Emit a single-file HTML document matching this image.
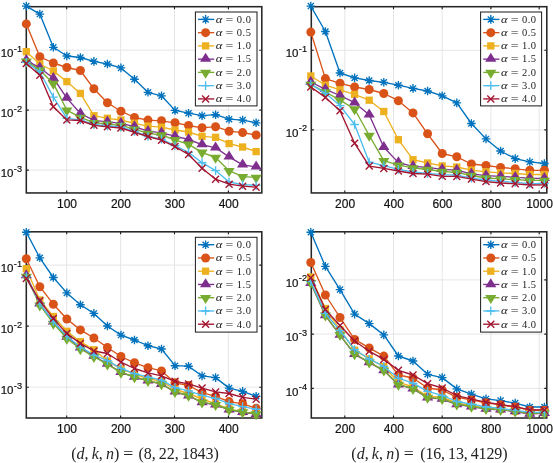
<!DOCTYPE html>
<html><head><meta charset="utf-8"><title>plots</title>
<style>
html,body{margin:0;padding:0;background:#fff}
svg{display:block}
.tk{font-family:"Liberation Sans",sans-serif;font-size:12px;fill:#111;stroke:#111;stroke-width:0.2px}
.ty{font-size:11.5px}
.sup{font-size:9.2px}
.lg{font-family:"Liberation Serif",serif;font-size:10.5px;fill:#1a1a1a}
.cap{font-family:"Liberation Serif",serif;font-size:16px;fill:#222}
.it{font-style:italic}
</style></head><body>
<svg width="553" height="463" viewBox="0 0 553 463">
<rect width="553" height="463" fill="#fff"/>
<rect x="26.3" y="6.7" width="235.5" height="186.25" fill="#fff"/>
<path d="M66.7 6.7V192.95M120.6 6.7V192.95M174.5 6.7V192.95M228.4 6.7V192.95M26.3 50.2H261.8M26.3 110.1H261.8M26.3 170.1H261.8" stroke="#e3e3e7" stroke-width="0.9" fill="none"/>
<path d="M66.7 192.95v-2.5M66.7 6.7v2.5M120.6 192.95v-2.5M120.6 6.7v2.5M174.5 192.95v-2.5M174.5 6.7v2.5M228.4 192.95v-2.5M228.4 6.7v2.5M26.3 50.2h2.5M261.8 50.2h-2.5M26.3 110.1h2.5M261.8 110.1h-2.5M26.3 170.1h2.5M261.8 170.1h-2.5" stroke="#1a1a1a" stroke-width="1.1" fill="none"/>
<rect x="26.3" y="6.7" width="235.5" height="186.25" fill="none" stroke="#262626" stroke-width="1.55"/>
<text x="67" y="207.85" text-anchor="middle" class="tk">100</text>
<text x="120.9" y="207.85" text-anchor="middle" class="tk">200</text>
<text x="174.8" y="207.85" text-anchor="middle" class="tk">300</text>
<text x="228.7" y="207.85" text-anchor="middle" class="tk">400</text>
<text x="22" y="57.3" text-anchor="end" class="tk ty">10<tspan dx="0.3" dy="-5.6" class="sup">-1</tspan></text>
<text x="22" y="117.2" text-anchor="end" class="tk ty">10<tspan dx="0.3" dy="-5.6" class="sup">-2</tspan></text>
<text x="22" y="177.2" text-anchor="end" class="tk ty">10<tspan dx="0.3" dy="-5.6" class="sup">-3</tspan></text>
<polyline points="26.3,6.1 39.82,14.1 53.34,47.3 66.86,56 80.38,57.5 93.9,61.4 107.42,64 120.94,67.9 134.46,79.2 147.98,92.3 161.5,95.8 175.02,110.4 188.54,113.2 202.06,115.7 215.58,114.7 229.1,119.2 242.62,120.1 256.14,122.8" fill="none" stroke="#0072BD" stroke-width="1.35" stroke-linejoin="round"/>
<path d="M22 6.1H30.6M26.3 1.8V10.4M23.26 3.06L29.34 9.14M23.26 9.14L29.34 3.06" stroke="#0072BD" stroke-width="1.35" fill="none"/>
<path d="M35.52 14.1H44.12M39.82 9.8V18.4M36.78 11.06L42.86 17.14M36.78 17.14L42.86 11.06" stroke="#0072BD" stroke-width="1.35" fill="none"/>
<path d="M49.04 47.3H57.64M53.34 43V51.6M50.3 44.26L56.38 50.34M50.3 50.34L56.38 44.26" stroke="#0072BD" stroke-width="1.35" fill="none"/>
<path d="M62.56 56H71.16M66.86 51.7V60.3M63.82 52.96L69.9 59.04M63.82 59.04L69.9 52.96" stroke="#0072BD" stroke-width="1.35" fill="none"/>
<path d="M76.08 57.5H84.68M80.38 53.2V61.8M77.34 54.46L83.42 60.54M77.34 60.54L83.42 54.46" stroke="#0072BD" stroke-width="1.35" fill="none"/>
<path d="M89.6 61.4H98.2M93.9 57.1V65.7M90.86 58.36L96.94 64.44M90.86 64.44L96.94 58.36" stroke="#0072BD" stroke-width="1.35" fill="none"/>
<path d="M103.12 64H111.72M107.42 59.7V68.3M104.38 60.96L110.46 67.04M104.38 67.04L110.46 60.96" stroke="#0072BD" stroke-width="1.35" fill="none"/>
<path d="M116.64 67.9H125.24M120.94 63.6V72.2M117.9 64.86L123.98 70.94M117.9 70.94L123.98 64.86" stroke="#0072BD" stroke-width="1.35" fill="none"/>
<path d="M130.16 79.2H138.76M134.46 74.9V83.5M131.42 76.16L137.5 82.24M131.42 82.24L137.5 76.16" stroke="#0072BD" stroke-width="1.35" fill="none"/>
<path d="M143.68 92.3H152.28M147.98 88V96.6M144.94 89.26L151.02 95.34M144.94 95.34L151.02 89.26" stroke="#0072BD" stroke-width="1.35" fill="none"/>
<path d="M157.2 95.8H165.8M161.5 91.5V100.1M158.46 92.76L164.54 98.84M158.46 98.84L164.54 92.76" stroke="#0072BD" stroke-width="1.35" fill="none"/>
<path d="M170.72 110.4H179.32M175.02 106.1V114.7M171.98 107.36L178.06 113.44M171.98 113.44L178.06 107.36" stroke="#0072BD" stroke-width="1.35" fill="none"/>
<path d="M184.24 113.2H192.84M188.54 108.9V117.5M185.5 110.16L191.58 116.24M185.5 116.24L191.58 110.16" stroke="#0072BD" stroke-width="1.35" fill="none"/>
<path d="M197.76 115.7H206.36M202.06 111.4V120M199.02 112.66L205.1 118.74M199.02 118.74L205.1 112.66" stroke="#0072BD" stroke-width="1.35" fill="none"/>
<path d="M211.28 114.7H219.88M215.58 110.4V119M212.54 111.66L218.62 117.74M212.54 117.74L218.62 111.66" stroke="#0072BD" stroke-width="1.35" fill="none"/>
<path d="M224.8 119.2H233.4M229.1 114.9V123.5M226.06 116.16L232.14 122.24M226.06 122.24L232.14 116.16" stroke="#0072BD" stroke-width="1.35" fill="none"/>
<path d="M238.32 120.1H246.92M242.62 115.8V124.4M239.58 117.06L245.66 123.14M239.58 123.14L245.66 117.06" stroke="#0072BD" stroke-width="1.35" fill="none"/>
<path d="M251.84 122.8H260.44M256.14 118.5V127.1M253.1 119.76L259.18 125.84M253.1 125.84L259.18 119.76" stroke="#0072BD" stroke-width="1.35" fill="none"/>
<polyline points="26.3,23.9 39.82,56.8 53.34,63 66.86,67.5 80.38,70.5 93.9,88.8 107.42,102.7 120.94,111.2 134.46,117.5 147.98,120.1 161.5,120.8 175.02,122.8 188.54,125.5 202.06,127.8 215.58,126.7 229.1,131.2 242.62,132.6 256.14,135" fill="none" stroke="#D95319" stroke-width="1.35" stroke-linejoin="round"/>
<circle cx="26.3" cy="23.9" r="4.5" fill="#D95319"/>
<circle cx="39.82" cy="56.8" r="4.5" fill="#D95319"/>
<circle cx="53.34" cy="63" r="4.5" fill="#D95319"/>
<circle cx="66.86" cy="67.5" r="4.5" fill="#D95319"/>
<circle cx="80.38" cy="70.5" r="4.5" fill="#D95319"/>
<circle cx="93.9" cy="88.8" r="4.5" fill="#D95319"/>
<circle cx="107.42" cy="102.7" r="4.5" fill="#D95319"/>
<circle cx="120.94" cy="111.2" r="4.5" fill="#D95319"/>
<circle cx="134.46" cy="117.5" r="4.5" fill="#D95319"/>
<circle cx="147.98" cy="120.1" r="4.5" fill="#D95319"/>
<circle cx="161.5" cy="120.8" r="4.5" fill="#D95319"/>
<circle cx="175.02" cy="122.8" r="4.5" fill="#D95319"/>
<circle cx="188.54" cy="125.5" r="4.5" fill="#D95319"/>
<circle cx="202.06" cy="127.8" r="4.5" fill="#D95319"/>
<circle cx="215.58" cy="126.7" r="4.5" fill="#D95319"/>
<circle cx="229.1" cy="131.2" r="4.5" fill="#D95319"/>
<circle cx="242.62" cy="132.6" r="4.5" fill="#D95319"/>
<circle cx="256.14" cy="135" r="4.5" fill="#D95319"/>
<polyline points="26.3,51.7 39.82,64 53.34,71 66.86,81.6 80.38,93.4 93.9,115.7 107.42,118.3 120.94,120 134.46,123.3 147.98,126.1 161.5,127.2 175.02,130 188.54,132 202.06,136.3 215.58,137.3 229.1,143.6 242.62,147 256.14,151.6" fill="none" stroke="#EDB120" stroke-width="1.35" stroke-linejoin="round"/>
<rect x="22.65" y="48.05" width="7.3" height="7.3" fill="#EDB120"/>
<rect x="36.17" y="60.35" width="7.3" height="7.3" fill="#EDB120"/>
<rect x="49.69" y="67.35" width="7.3" height="7.3" fill="#EDB120"/>
<rect x="63.21" y="77.95" width="7.3" height="7.3" fill="#EDB120"/>
<rect x="76.73" y="89.75" width="7.3" height="7.3" fill="#EDB120"/>
<rect x="90.25" y="112.05" width="7.3" height="7.3" fill="#EDB120"/>
<rect x="103.77" y="114.65" width="7.3" height="7.3" fill="#EDB120"/>
<rect x="117.29" y="116.35" width="7.3" height="7.3" fill="#EDB120"/>
<rect x="130.81" y="119.65" width="7.3" height="7.3" fill="#EDB120"/>
<rect x="144.33" y="122.45" width="7.3" height="7.3" fill="#EDB120"/>
<rect x="157.85" y="123.55" width="7.3" height="7.3" fill="#EDB120"/>
<rect x="171.37" y="126.35" width="7.3" height="7.3" fill="#EDB120"/>
<rect x="184.89" y="128.35" width="7.3" height="7.3" fill="#EDB120"/>
<rect x="198.41" y="132.65" width="7.3" height="7.3" fill="#EDB120"/>
<rect x="211.93" y="133.65" width="7.3" height="7.3" fill="#EDB120"/>
<rect x="225.45" y="139.95" width="7.3" height="7.3" fill="#EDB120"/>
<rect x="238.97" y="143.35" width="7.3" height="7.3" fill="#EDB120"/>
<rect x="252.49" y="147.95" width="7.3" height="7.3" fill="#EDB120"/>
<polyline points="26.3,60.3 39.82,67.8 53.34,78.2 66.86,98.1 80.38,113.5 93.9,120.4 107.42,121.8 120.94,123.4 134.46,126.6 147.98,131.2 161.5,132.9 175.02,136.2 188.54,139.5 202.06,144.6 215.58,147.8 229.1,156.9 242.62,164.8 256.14,166.9" fill="none" stroke="#7E2F8E" stroke-width="1.35" stroke-linejoin="round"/>
<path d="M26.3 54L31.9 63H20.7Z" fill="#7E2F8E"/>
<path d="M39.82 61.5L45.42 70.5H34.22Z" fill="#7E2F8E"/>
<path d="M53.34 71.9L58.94 80.9H47.74Z" fill="#7E2F8E"/>
<path d="M66.86 91.8L72.46 100.8H61.26Z" fill="#7E2F8E"/>
<path d="M80.38 107.2L85.98 116.2H74.78Z" fill="#7E2F8E"/>
<path d="M93.9 114.1L99.5 123.1H88.3Z" fill="#7E2F8E"/>
<path d="M107.42 115.5L113.02 124.5H101.82Z" fill="#7E2F8E"/>
<path d="M120.94 117.1L126.54 126.1H115.34Z" fill="#7E2F8E"/>
<path d="M134.46 120.3L140.06 129.3H128.86Z" fill="#7E2F8E"/>
<path d="M147.98 124.9L153.58 133.9H142.38Z" fill="#7E2F8E"/>
<path d="M161.5 126.6L167.1 135.6H155.9Z" fill="#7E2F8E"/>
<path d="M175.02 129.9L180.62 138.9H169.42Z" fill="#7E2F8E"/>
<path d="M188.54 133.2L194.14 142.2H182.94Z" fill="#7E2F8E"/>
<path d="M202.06 138.3L207.66 147.3H196.46Z" fill="#7E2F8E"/>
<path d="M215.58 141.5L221.18 150.5H209.98Z" fill="#7E2F8E"/>
<path d="M229.1 150.6L234.7 159.6H223.5Z" fill="#7E2F8E"/>
<path d="M242.62 158.5L248.22 167.5H237.02Z" fill="#7E2F8E"/>
<path d="M256.14 160.6L261.74 169.6H250.54Z" fill="#7E2F8E"/>
<polyline points="26.3,61.1 39.82,70 53.34,83.4 66.86,110.2 80.38,117.4 93.9,122.6 107.42,124.2 120.94,125.4 134.46,129.1 147.98,133.4 161.5,135 175.02,139.8 188.54,144.3 202.06,152.3 215.58,157.5 229.1,170.7 242.62,176.6 256.14,177.4" fill="none" stroke="#77AC30" stroke-width="1.35" stroke-linejoin="round"/>
<path d="M26.3 67.4L31.9 58.4H20.7Z" fill="#77AC30"/>
<path d="M39.82 76.3L45.42 67.3H34.22Z" fill="#77AC30"/>
<path d="M53.34 89.7L58.94 80.7H47.74Z" fill="#77AC30"/>
<path d="M66.86 116.5L72.46 107.5H61.26Z" fill="#77AC30"/>
<path d="M80.38 123.7L85.98 114.7H74.78Z" fill="#77AC30"/>
<path d="M93.9 128.9L99.5 119.9H88.3Z" fill="#77AC30"/>
<path d="M107.42 130.5L113.02 121.5H101.82Z" fill="#77AC30"/>
<path d="M120.94 131.7L126.54 122.7H115.34Z" fill="#77AC30"/>
<path d="M134.46 135.4L140.06 126.4H128.86Z" fill="#77AC30"/>
<path d="M147.98 139.7L153.58 130.7H142.38Z" fill="#77AC30"/>
<path d="M161.5 141.3L167.1 132.3H155.9Z" fill="#77AC30"/>
<path d="M175.02 146.1L180.62 137.1H169.42Z" fill="#77AC30"/>
<path d="M188.54 150.6L194.14 141.6H182.94Z" fill="#77AC30"/>
<path d="M202.06 158.6L207.66 149.6H196.46Z" fill="#77AC30"/>
<path d="M215.58 163.8L221.18 154.8H209.98Z" fill="#77AC30"/>
<path d="M229.1 177L234.7 168H223.5Z" fill="#77AC30"/>
<path d="M242.62 182.9L248.22 173.9H237.02Z" fill="#77AC30"/>
<path d="M256.14 183.7L261.74 174.7H250.54Z" fill="#77AC30"/>
<polyline points="26.3,62.4 39.82,71.7 53.34,97.1 66.86,118.4 80.38,119.9 93.9,124.4 107.42,126 120.94,127 134.46,131.4 147.98,136.5 161.5,139.2 175.02,145.5 188.54,152.4 202.06,162.7 215.58,170.6 229.1,182 242.62,184.6 256.14,185.3" fill="none" stroke="#4DBEEE" stroke-width="1.35" stroke-linejoin="round"/>
<path d="M21.95 62.4H30.65M26.3 58.05V66.75" stroke="#4DBEEE" stroke-width="1.35" fill="none"/>
<path d="M35.47 71.7H44.17M39.82 67.35V76.05" stroke="#4DBEEE" stroke-width="1.35" fill="none"/>
<path d="M48.99 97.1H57.69M53.34 92.75V101.45" stroke="#4DBEEE" stroke-width="1.35" fill="none"/>
<path d="M62.51 118.4H71.21M66.86 114.05V122.75" stroke="#4DBEEE" stroke-width="1.35" fill="none"/>
<path d="M76.03 119.9H84.73M80.38 115.55V124.25" stroke="#4DBEEE" stroke-width="1.35" fill="none"/>
<path d="M89.55 124.4H98.25M93.9 120.05V128.75" stroke="#4DBEEE" stroke-width="1.35" fill="none"/>
<path d="M103.07 126H111.77M107.42 121.65V130.35" stroke="#4DBEEE" stroke-width="1.35" fill="none"/>
<path d="M116.59 127H125.29M120.94 122.65V131.35" stroke="#4DBEEE" stroke-width="1.35" fill="none"/>
<path d="M130.11 131.4H138.81M134.46 127.05V135.75" stroke="#4DBEEE" stroke-width="1.35" fill="none"/>
<path d="M143.63 136.5H152.33M147.98 132.15V140.85" stroke="#4DBEEE" stroke-width="1.35" fill="none"/>
<path d="M157.15 139.2H165.85M161.5 134.85V143.55" stroke="#4DBEEE" stroke-width="1.35" fill="none"/>
<path d="M170.67 145.5H179.37M175.02 141.15V149.85" stroke="#4DBEEE" stroke-width="1.35" fill="none"/>
<path d="M184.19 152.4H192.89M188.54 148.05V156.75" stroke="#4DBEEE" stroke-width="1.35" fill="none"/>
<path d="M197.71 162.7H206.41M202.06 158.35V167.05" stroke="#4DBEEE" stroke-width="1.35" fill="none"/>
<path d="M211.23 170.6H219.93M215.58 166.25V174.95" stroke="#4DBEEE" stroke-width="1.35" fill="none"/>
<path d="M224.75 182H233.45M229.1 177.65V186.35" stroke="#4DBEEE" stroke-width="1.35" fill="none"/>
<path d="M238.27 184.6H246.97M242.62 180.25V188.95" stroke="#4DBEEE" stroke-width="1.35" fill="none"/>
<path d="M251.79 185.3H260.49M256.14 180.95V189.65" stroke="#4DBEEE" stroke-width="1.35" fill="none"/>
<polyline points="26.3,63.4 39.82,75.2 53.34,106.8 66.86,119.9 80.38,120.5 93.9,125.3 107.42,126.8 120.94,128 134.46,132.3 147.98,136.5 161.5,140.2 175.02,146.6 188.54,154.5 202.06,168.2 215.58,179.2 229.1,184.2 242.62,186.2 256.14,187.2" fill="none" stroke="#A2142F" stroke-width="1.35" stroke-linejoin="round"/>
<path d="M22.8 59.9L29.8 66.9M22.8 66.9L29.8 59.9" stroke="#A2142F" stroke-width="1.35" fill="none"/>
<path d="M36.32 71.7L43.32 78.7M36.32 78.7L43.32 71.7" stroke="#A2142F" stroke-width="1.35" fill="none"/>
<path d="M49.84 103.3L56.84 110.3M49.84 110.3L56.84 103.3" stroke="#A2142F" stroke-width="1.35" fill="none"/>
<path d="M63.36 116.4L70.36 123.4M63.36 123.4L70.36 116.4" stroke="#A2142F" stroke-width="1.35" fill="none"/>
<path d="M76.88 117L83.88 124M76.88 124L83.88 117" stroke="#A2142F" stroke-width="1.35" fill="none"/>
<path d="M90.4 121.8L97.4 128.8M90.4 128.8L97.4 121.8" stroke="#A2142F" stroke-width="1.35" fill="none"/>
<path d="M103.92 123.3L110.92 130.3M103.92 130.3L110.92 123.3" stroke="#A2142F" stroke-width="1.35" fill="none"/>
<path d="M117.44 124.5L124.44 131.5M117.44 131.5L124.44 124.5" stroke="#A2142F" stroke-width="1.35" fill="none"/>
<path d="M130.96 128.8L137.96 135.8M130.96 135.8L137.96 128.8" stroke="#A2142F" stroke-width="1.35" fill="none"/>
<path d="M144.48 133L151.48 140M144.48 140L151.48 133" stroke="#A2142F" stroke-width="1.35" fill="none"/>
<path d="M158 136.7L165 143.7M158 143.7L165 136.7" stroke="#A2142F" stroke-width="1.35" fill="none"/>
<path d="M171.52 143.1L178.52 150.1M171.52 150.1L178.52 143.1" stroke="#A2142F" stroke-width="1.35" fill="none"/>
<path d="M185.04 151L192.04 158M185.04 158L192.04 151" stroke="#A2142F" stroke-width="1.35" fill="none"/>
<path d="M198.56 164.7L205.56 171.7M198.56 171.7L205.56 164.7" stroke="#A2142F" stroke-width="1.35" fill="none"/>
<path d="M212.08 175.7L219.08 182.7M212.08 182.7L219.08 175.7" stroke="#A2142F" stroke-width="1.35" fill="none"/>
<path d="M225.6 180.7L232.6 187.7M225.6 187.7L232.6 180.7" stroke="#A2142F" stroke-width="1.35" fill="none"/>
<path d="M239.12 182.7L246.12 189.7M239.12 189.7L246.12 182.7" stroke="#A2142F" stroke-width="1.35" fill="none"/>
<path d="M252.64 183.7L259.64 190.7M252.64 190.7L259.64 183.7" stroke="#A2142F" stroke-width="1.35" fill="none"/>
<rect x="195.4" y="12" width="61.6" height="93.9" fill="#fff" stroke="#1a1a1a" stroke-width="1"/>
<path d="M198 19.4H214.2" stroke="#0072BD" stroke-width="1.35"/>
<path d="M201.3 19.4H209.9M205.6 15.1V23.7M202.56 16.36L208.64 22.44M202.56 22.44L208.64 16.36" stroke="#0072BD" stroke-width="1.35" fill="none"/>
<text y="22.7" class="lg"><tspan x="215.7" class="it" textLength="6.6" lengthAdjust="spacingAndGlyphs">α</tspan><tspan x="225.6" textLength="7.8" lengthAdjust="spacingAndGlyphs">=</tspan><tspan x="236.7" textLength="14.2">0.0</tspan></text>
<path d="M198 32.65H214.2" stroke="#D95319" stroke-width="1.35"/>
<circle cx="205.6" cy="32.65" r="4.5" fill="#D95319"/>
<text y="35.95" class="lg"><tspan x="215.7" class="it" textLength="6.6" lengthAdjust="spacingAndGlyphs">α</tspan><tspan x="225.6" textLength="7.8" lengthAdjust="spacingAndGlyphs">=</tspan><tspan x="236.7" textLength="14.2">0.5</tspan></text>
<path d="M198 45.9H214.2" stroke="#EDB120" stroke-width="1.35"/>
<rect x="201.95" y="42.25" width="7.3" height="7.3" fill="#EDB120"/>
<text y="49.2" class="lg"><tspan x="215.7" class="it" textLength="6.6" lengthAdjust="spacingAndGlyphs">α</tspan><tspan x="225.6" textLength="7.8" lengthAdjust="spacingAndGlyphs">=</tspan><tspan x="236.7" textLength="14.2">1.0</tspan></text>
<path d="M198 59.15H214.2" stroke="#7E2F8E" stroke-width="1.35"/>
<path d="M205.6 52.85L211.2 61.85H200Z" fill="#7E2F8E"/>
<text y="62.45" class="lg"><tspan x="215.7" class="it" textLength="6.6" lengthAdjust="spacingAndGlyphs">α</tspan><tspan x="225.6" textLength="7.8" lengthAdjust="spacingAndGlyphs">=</tspan><tspan x="236.7" textLength="14.2">1.5</tspan></text>
<path d="M198 72.4H214.2" stroke="#77AC30" stroke-width="1.35"/>
<path d="M205.6 78.7L211.2 69.7H200Z" fill="#77AC30"/>
<text y="75.7" class="lg"><tspan x="215.7" class="it" textLength="6.6" lengthAdjust="spacingAndGlyphs">α</tspan><tspan x="225.6" textLength="7.8" lengthAdjust="spacingAndGlyphs">=</tspan><tspan x="236.7" textLength="14.2">2.0</tspan></text>
<path d="M198 85.65H214.2" stroke="#4DBEEE" stroke-width="1.35"/>
<path d="M201.25 85.65H209.95M205.6 81.3V90" stroke="#4DBEEE" stroke-width="1.35" fill="none"/>
<text y="88.95" class="lg"><tspan x="215.7" class="it" textLength="6.6" lengthAdjust="spacingAndGlyphs">α</tspan><tspan x="225.6" textLength="7.8" lengthAdjust="spacingAndGlyphs">=</tspan><tspan x="236.7" textLength="14.2">3.0</tspan></text>
<path d="M198 98.9H214.2" stroke="#A2142F" stroke-width="1.35"/>
<path d="M202.1 95.4L209.1 102.4M202.1 102.4L209.1 95.4" stroke="#A2142F" stroke-width="1.35" fill="none"/>
<text y="102.2" class="lg"><tspan x="215.7" class="it" textLength="6.6" lengthAdjust="spacingAndGlyphs">α</tspan><tspan x="225.6" textLength="7.8" lengthAdjust="spacingAndGlyphs">=</tspan><tspan x="236.7" textLength="14.2">4.0</tspan></text>
<rect x="311.3" y="6.7" width="235.5" height="186.25" fill="#fff"/>
<path d="M344.8 6.7V192.95M393.5 6.7V192.95M442.2 6.7V192.95M490.9 6.7V192.95M539.2 6.7V192.95M311.3 50.3H546.8M311.3 129.9H546.8" stroke="#e3e3e7" stroke-width="0.9" fill="none"/>
<path d="M344.8 192.95v-2.5M344.8 6.7v2.5M393.5 192.95v-2.5M393.5 6.7v2.5M442.2 192.95v-2.5M442.2 6.7v2.5M490.9 192.95v-2.5M490.9 6.7v2.5M539.2 192.95v-2.5M539.2 6.7v2.5M311.3 50.3h2.5M546.8 50.3h-2.5M311.3 129.9h2.5M546.8 129.9h-2.5" stroke="#1a1a1a" stroke-width="1.1" fill="none"/>
<rect x="311.3" y="6.7" width="235.5" height="186.25" fill="none" stroke="#262626" stroke-width="1.55"/>
<text x="345.1" y="207.85" text-anchor="middle" class="tk">200</text>
<text x="393.8" y="207.85" text-anchor="middle" class="tk">400</text>
<text x="442.5" y="207.85" text-anchor="middle" class="tk">600</text>
<text x="491.2" y="207.85" text-anchor="middle" class="tk">800</text>
<text x="539.5" y="207.85" text-anchor="middle" class="tk">1000</text>
<text x="307" y="57.4" text-anchor="end" class="tk ty">10<tspan dx="0.3" dy="-5.6" class="sup">-1</tspan></text>
<text x="307" y="137" text-anchor="end" class="tk ty">10<tspan dx="0.3" dy="-5.6" class="sup">-2</tspan></text>
<polyline points="310.8,6.1 325.4,31.5 340,73 354.6,77.9 369.2,80.5 383.8,82.3 398.4,85.2 413,88.4 427.6,91 442.2,95.8 456.8,102.9 471.4,123.5 486,138.9 500.6,151 515.2,158.6 529.8,161.9 544.4,163.5" fill="none" stroke="#0072BD" stroke-width="1.35" stroke-linejoin="round"/>
<path d="M306.5 6.1H315.1M310.8 1.8V10.4M307.76 3.06L313.84 9.14M307.76 9.14L313.84 3.06" stroke="#0072BD" stroke-width="1.35" fill="none"/>
<path d="M321.1 31.5H329.7M325.4 27.2V35.8M322.36 28.46L328.44 34.54M322.36 34.54L328.44 28.46" stroke="#0072BD" stroke-width="1.35" fill="none"/>
<path d="M335.7 73H344.3M340 68.7V77.3M336.96 69.96L343.04 76.04M336.96 76.04L343.04 69.96" stroke="#0072BD" stroke-width="1.35" fill="none"/>
<path d="M350.3 77.9H358.9M354.6 73.6V82.2M351.56 74.86L357.64 80.94M351.56 80.94L357.64 74.86" stroke="#0072BD" stroke-width="1.35" fill="none"/>
<path d="M364.9 80.5H373.5M369.2 76.2V84.8M366.16 77.46L372.24 83.54M366.16 83.54L372.24 77.46" stroke="#0072BD" stroke-width="1.35" fill="none"/>
<path d="M379.5 82.3H388.1M383.8 78V86.6M380.76 79.26L386.84 85.34M380.76 85.34L386.84 79.26" stroke="#0072BD" stroke-width="1.35" fill="none"/>
<path d="M394.1 85.2H402.7M398.4 80.9V89.5M395.36 82.16L401.44 88.24M395.36 88.24L401.44 82.16" stroke="#0072BD" stroke-width="1.35" fill="none"/>
<path d="M408.7 88.4H417.3M413 84.1V92.7M409.96 85.36L416.04 91.44M409.96 91.44L416.04 85.36" stroke="#0072BD" stroke-width="1.35" fill="none"/>
<path d="M423.3 91H431.9M427.6 86.7V95.3M424.56 87.96L430.64 94.04M424.56 94.04L430.64 87.96" stroke="#0072BD" stroke-width="1.35" fill="none"/>
<path d="M437.9 95.8H446.5M442.2 91.5V100.1M439.16 92.76L445.24 98.84M439.16 98.84L445.24 92.76" stroke="#0072BD" stroke-width="1.35" fill="none"/>
<path d="M452.5 102.9H461.1M456.8 98.6V107.2M453.76 99.86L459.84 105.94M453.76 105.94L459.84 99.86" stroke="#0072BD" stroke-width="1.35" fill="none"/>
<path d="M467.1 123.5H475.7M471.4 119.2V127.8M468.36 120.46L474.44 126.54M468.36 126.54L474.44 120.46" stroke="#0072BD" stroke-width="1.35" fill="none"/>
<path d="M481.7 138.9H490.3M486 134.6V143.2M482.96 135.86L489.04 141.94M482.96 141.94L489.04 135.86" stroke="#0072BD" stroke-width="1.35" fill="none"/>
<path d="M496.3 151H504.9M500.6 146.7V155.3M497.56 147.96L503.64 154.04M497.56 154.04L503.64 147.96" stroke="#0072BD" stroke-width="1.35" fill="none"/>
<path d="M510.9 158.6H519.5M515.2 154.3V162.9M512.16 155.56L518.24 161.64M512.16 161.64L518.24 155.56" stroke="#0072BD" stroke-width="1.35" fill="none"/>
<path d="M525.5 161.9H534.1M529.8 157.6V166.2M526.76 158.86L532.84 164.94M526.76 164.94L532.84 158.86" stroke="#0072BD" stroke-width="1.35" fill="none"/>
<path d="M540.1 163.5H548.7M544.4 159.2V167.8M541.36 160.46L547.44 166.54M541.36 166.54L547.44 160.46" stroke="#0072BD" stroke-width="1.35" fill="none"/>
<polyline points="310.8,32.1 325.4,78.6 340,83.3 354.6,87 369.2,89.5 383.8,93.5 398.4,100.7 413,112.9 427.6,133.8 442.2,153.5 456.8,156.8 471.4,164 486,165.5 500.6,167.4 515.2,168.8 529.8,170.3 544.4,170.3" fill="none" stroke="#D95319" stroke-width="1.35" stroke-linejoin="round"/>
<circle cx="310.8" cy="32.1" r="4.5" fill="#D95319"/>
<circle cx="325.4" cy="78.6" r="4.5" fill="#D95319"/>
<circle cx="340" cy="83.3" r="4.5" fill="#D95319"/>
<circle cx="354.6" cy="87" r="4.5" fill="#D95319"/>
<circle cx="369.2" cy="89.5" r="4.5" fill="#D95319"/>
<circle cx="383.8" cy="93.5" r="4.5" fill="#D95319"/>
<circle cx="398.4" cy="100.7" r="4.5" fill="#D95319"/>
<circle cx="413" cy="112.9" r="4.5" fill="#D95319"/>
<circle cx="427.6" cy="133.8" r="4.5" fill="#D95319"/>
<circle cx="442.2" cy="153.5" r="4.5" fill="#D95319"/>
<circle cx="456.8" cy="156.8" r="4.5" fill="#D95319"/>
<circle cx="471.4" cy="164" r="4.5" fill="#D95319"/>
<circle cx="486" cy="165.5" r="4.5" fill="#D95319"/>
<circle cx="500.6" cy="167.4" r="4.5" fill="#D95319"/>
<circle cx="515.2" cy="168.8" r="4.5" fill="#D95319"/>
<circle cx="529.8" cy="170.3" r="4.5" fill="#D95319"/>
<circle cx="544.4" cy="170.3" r="4.5" fill="#D95319"/>
<polyline points="310.8,76 325.4,85.2 340,89.8 354.6,94.4 369.2,100.2 383.8,111.5 398.4,139.7 413,159.7 427.6,163 442.2,165.9 456.8,167 471.4,170.1 486,171.8 500.6,172.9 515.2,173.5 529.8,174.5 544.4,174.5" fill="none" stroke="#EDB120" stroke-width="1.35" stroke-linejoin="round"/>
<rect x="307.15" y="72.35" width="7.3" height="7.3" fill="#EDB120"/>
<rect x="321.75" y="81.55" width="7.3" height="7.3" fill="#EDB120"/>
<rect x="336.35" y="86.15" width="7.3" height="7.3" fill="#EDB120"/>
<rect x="350.95" y="90.75" width="7.3" height="7.3" fill="#EDB120"/>
<rect x="365.55" y="96.55" width="7.3" height="7.3" fill="#EDB120"/>
<rect x="380.15" y="107.85" width="7.3" height="7.3" fill="#EDB120"/>
<rect x="394.75" y="136.05" width="7.3" height="7.3" fill="#EDB120"/>
<rect x="409.35" y="156.05" width="7.3" height="7.3" fill="#EDB120"/>
<rect x="423.95" y="159.35" width="7.3" height="7.3" fill="#EDB120"/>
<rect x="438.55" y="162.25" width="7.3" height="7.3" fill="#EDB120"/>
<rect x="453.15" y="163.35" width="7.3" height="7.3" fill="#EDB120"/>
<rect x="467.75" y="166.45" width="7.3" height="7.3" fill="#EDB120"/>
<rect x="482.35" y="168.15" width="7.3" height="7.3" fill="#EDB120"/>
<rect x="496.95" y="169.25" width="7.3" height="7.3" fill="#EDB120"/>
<rect x="511.55" y="169.85" width="7.3" height="7.3" fill="#EDB120"/>
<rect x="526.15" y="170.85" width="7.3" height="7.3" fill="#EDB120"/>
<rect x="540.75" y="170.85" width="7.3" height="7.3" fill="#EDB120"/>
<polyline points="310.8,82 325.4,89.4 340,95.5 354.6,102.7 369.2,114.7 383.8,147.2 398.4,162.6 413,166.3 427.6,167.4 442.2,169.4 456.8,170.1 471.4,173.8 486,175.6 500.6,176.4 515.2,177.2 529.8,178.4 544.4,178.4" fill="none" stroke="#7E2F8E" stroke-width="1.35" stroke-linejoin="round"/>
<path d="M310.8 75.7L316.4 84.7H305.2Z" fill="#7E2F8E"/>
<path d="M325.4 83.1L331 92.1H319.8Z" fill="#7E2F8E"/>
<path d="M340 89.2L345.6 98.2H334.4Z" fill="#7E2F8E"/>
<path d="M354.6 96.4L360.2 105.4H349Z" fill="#7E2F8E"/>
<path d="M369.2 108.4L374.8 117.4H363.6Z" fill="#7E2F8E"/>
<path d="M383.8 140.9L389.4 149.9H378.2Z" fill="#7E2F8E"/>
<path d="M398.4 156.3L404 165.3H392.8Z" fill="#7E2F8E"/>
<path d="M413 160L418.6 169H407.4Z" fill="#7E2F8E"/>
<path d="M427.6 161.1L433.2 170.1H422Z" fill="#7E2F8E"/>
<path d="M442.2 163.1L447.8 172.1H436.6Z" fill="#7E2F8E"/>
<path d="M456.8 163.8L462.4 172.8H451.2Z" fill="#7E2F8E"/>
<path d="M471.4 167.5L477 176.5H465.8Z" fill="#7E2F8E"/>
<path d="M486 169.3L491.6 178.3H480.4Z" fill="#7E2F8E"/>
<path d="M500.6 170.1L506.2 179.1H495Z" fill="#7E2F8E"/>
<path d="M515.2 170.9L520.8 179.9H509.6Z" fill="#7E2F8E"/>
<path d="M529.8 172.1L535.4 181.1H524.2Z" fill="#7E2F8E"/>
<path d="M544.4 172.1L550 181.1H538.8Z" fill="#7E2F8E"/>
<polyline points="310.8,84.5 325.4,92 340,100.1 354.6,109 369.2,135.5 383.8,160.7 398.4,165.2 413,167.9 427.6,169.5 442.2,171.5 456.8,172.4 471.4,175.5 486,178 500.6,178.9 515.2,179.7 529.8,180.4 544.4,180.4" fill="none" stroke="#77AC30" stroke-width="1.35" stroke-linejoin="round"/>
<path d="M310.8 90.8L316.4 81.8H305.2Z" fill="#77AC30"/>
<path d="M325.4 98.3L331 89.3H319.8Z" fill="#77AC30"/>
<path d="M340 106.4L345.6 97.4H334.4Z" fill="#77AC30"/>
<path d="M354.6 115.3L360.2 106.3H349Z" fill="#77AC30"/>
<path d="M369.2 141.8L374.8 132.8H363.6Z" fill="#77AC30"/>
<path d="M383.8 167L389.4 158H378.2Z" fill="#77AC30"/>
<path d="M398.4 171.5L404 162.5H392.8Z" fill="#77AC30"/>
<path d="M413 174.2L418.6 165.2H407.4Z" fill="#77AC30"/>
<path d="M427.6 175.8L433.2 166.8H422Z" fill="#77AC30"/>
<path d="M442.2 177.8L447.8 168.8H436.6Z" fill="#77AC30"/>
<path d="M456.8 178.7L462.4 169.7H451.2Z" fill="#77AC30"/>
<path d="M471.4 181.8L477 172.8H465.8Z" fill="#77AC30"/>
<path d="M486 184.3L491.6 175.3H480.4Z" fill="#77AC30"/>
<path d="M500.6 185.2L506.2 176.2H495Z" fill="#77AC30"/>
<path d="M515.2 186L520.8 177H509.6Z" fill="#77AC30"/>
<path d="M529.8 186.7L535.4 177.7H524.2Z" fill="#77AC30"/>
<path d="M544.4 186.7L550 177.7H538.8Z" fill="#77AC30"/>
<polyline points="310.8,84.4 325.4,93.3 340,105.6 354.6,124.5 369.2,162.2 383.8,165.7 398.4,169.4 413,172 427.6,173.3 442.2,174.6 456.8,175.2 471.4,178.2 486,180 500.6,181.3 515.2,182.3 529.8,183.6 544.4,183.3" fill="none" stroke="#4DBEEE" stroke-width="1.35" stroke-linejoin="round"/>
<path d="M306.45 84.4H315.15M310.8 80.05V88.75" stroke="#4DBEEE" stroke-width="1.35" fill="none"/>
<path d="M321.05 93.3H329.75M325.4 88.95V97.65" stroke="#4DBEEE" stroke-width="1.35" fill="none"/>
<path d="M335.65 105.6H344.35M340 101.25V109.95" stroke="#4DBEEE" stroke-width="1.35" fill="none"/>
<path d="M350.25 124.5H358.95M354.6 120.15V128.85" stroke="#4DBEEE" stroke-width="1.35" fill="none"/>
<path d="M364.85 162.2H373.55M369.2 157.85V166.55" stroke="#4DBEEE" stroke-width="1.35" fill="none"/>
<path d="M379.45 165.7H388.15M383.8 161.35V170.05" stroke="#4DBEEE" stroke-width="1.35" fill="none"/>
<path d="M394.05 169.4H402.75M398.4 165.05V173.75" stroke="#4DBEEE" stroke-width="1.35" fill="none"/>
<path d="M408.65 172H417.35M413 167.65V176.35" stroke="#4DBEEE" stroke-width="1.35" fill="none"/>
<path d="M423.25 173.3H431.95M427.6 168.95V177.65" stroke="#4DBEEE" stroke-width="1.35" fill="none"/>
<path d="M437.85 174.6H446.55M442.2 170.25V178.95" stroke="#4DBEEE" stroke-width="1.35" fill="none"/>
<path d="M452.45 175.2H461.15M456.8 170.85V179.55" stroke="#4DBEEE" stroke-width="1.35" fill="none"/>
<path d="M467.05 178.2H475.75M471.4 173.85V182.55" stroke="#4DBEEE" stroke-width="1.35" fill="none"/>
<path d="M481.65 180H490.35M486 175.65V184.35" stroke="#4DBEEE" stroke-width="1.35" fill="none"/>
<path d="M496.25 181.3H504.95M500.6 176.95V185.65" stroke="#4DBEEE" stroke-width="1.35" fill="none"/>
<path d="M510.85 182.3H519.55M515.2 177.95V186.65" stroke="#4DBEEE" stroke-width="1.35" fill="none"/>
<path d="M525.45 183.6H534.15M529.8 179.25V187.95" stroke="#4DBEEE" stroke-width="1.35" fill="none"/>
<path d="M540.05 183.3H548.75M544.4 178.95V187.65" stroke="#4DBEEE" stroke-width="1.35" fill="none"/>
<polyline points="310.8,87 325.4,97.4 340,110.7 354.6,143.2 369.2,166.1 383.8,168.4 398.4,171 413,173.5 427.6,174.2 442.2,176.3 456.8,176.4 471.4,179.1 486,181.6 500.6,183 515.2,183.8 529.8,185 544.4,184.9" fill="none" stroke="#A2142F" stroke-width="1.35" stroke-linejoin="round"/>
<path d="M307.3 83.5L314.3 90.5M307.3 90.5L314.3 83.5" stroke="#A2142F" stroke-width="1.35" fill="none"/>
<path d="M321.9 93.9L328.9 100.9M321.9 100.9L328.9 93.9" stroke="#A2142F" stroke-width="1.35" fill="none"/>
<path d="M336.5 107.2L343.5 114.2M336.5 114.2L343.5 107.2" stroke="#A2142F" stroke-width="1.35" fill="none"/>
<path d="M351.1 139.7L358.1 146.7M351.1 146.7L358.1 139.7" stroke="#A2142F" stroke-width="1.35" fill="none"/>
<path d="M365.7 162.6L372.7 169.6M365.7 169.6L372.7 162.6" stroke="#A2142F" stroke-width="1.35" fill="none"/>
<path d="M380.3 164.9L387.3 171.9M380.3 171.9L387.3 164.9" stroke="#A2142F" stroke-width="1.35" fill="none"/>
<path d="M394.9 167.5L401.9 174.5M394.9 174.5L401.9 167.5" stroke="#A2142F" stroke-width="1.35" fill="none"/>
<path d="M409.5 170L416.5 177M409.5 177L416.5 170" stroke="#A2142F" stroke-width="1.35" fill="none"/>
<path d="M424.1 170.7L431.1 177.7M424.1 177.7L431.1 170.7" stroke="#A2142F" stroke-width="1.35" fill="none"/>
<path d="M438.7 172.8L445.7 179.8M438.7 179.8L445.7 172.8" stroke="#A2142F" stroke-width="1.35" fill="none"/>
<path d="M453.3 172.9L460.3 179.9M453.3 179.9L460.3 172.9" stroke="#A2142F" stroke-width="1.35" fill="none"/>
<path d="M467.9 175.6L474.9 182.6M467.9 182.6L474.9 175.6" stroke="#A2142F" stroke-width="1.35" fill="none"/>
<path d="M482.5 178.1L489.5 185.1M482.5 185.1L489.5 178.1" stroke="#A2142F" stroke-width="1.35" fill="none"/>
<path d="M497.1 179.5L504.1 186.5M497.1 186.5L504.1 179.5" stroke="#A2142F" stroke-width="1.35" fill="none"/>
<path d="M511.7 180.3L518.7 187.3M511.7 187.3L518.7 180.3" stroke="#A2142F" stroke-width="1.35" fill="none"/>
<path d="M526.3 181.5L533.3 188.5M526.3 188.5L533.3 181.5" stroke="#A2142F" stroke-width="1.35" fill="none"/>
<path d="M540.9 181.4L547.9 188.4M540.9 188.4L547.9 181.4" stroke="#A2142F" stroke-width="1.35" fill="none"/>
<rect x="480.6" y="12" width="61" height="93.9" fill="#fff" stroke="#1a1a1a" stroke-width="1"/>
<path d="M483.2 19.4H499.4" stroke="#0072BD" stroke-width="1.35"/>
<path d="M486.5 19.4H495.1M490.8 15.1V23.7M487.76 16.36L493.84 22.44M487.76 22.44L493.84 16.36" stroke="#0072BD" stroke-width="1.35" fill="none"/>
<text y="22.7" class="lg"><tspan x="500.9" class="it" textLength="6.6" lengthAdjust="spacingAndGlyphs">α</tspan><tspan x="510.8" textLength="7.8" lengthAdjust="spacingAndGlyphs">=</tspan><tspan x="521.9" textLength="14.2">0.0</tspan></text>
<path d="M483.2 32.65H499.4" stroke="#D95319" stroke-width="1.35"/>
<circle cx="490.8" cy="32.65" r="4.5" fill="#D95319"/>
<text y="35.95" class="lg"><tspan x="500.9" class="it" textLength="6.6" lengthAdjust="spacingAndGlyphs">α</tspan><tspan x="510.8" textLength="7.8" lengthAdjust="spacingAndGlyphs">=</tspan><tspan x="521.9" textLength="14.2">0.5</tspan></text>
<path d="M483.2 45.9H499.4" stroke="#EDB120" stroke-width="1.35"/>
<rect x="487.15" y="42.25" width="7.3" height="7.3" fill="#EDB120"/>
<text y="49.2" class="lg"><tspan x="500.9" class="it" textLength="6.6" lengthAdjust="spacingAndGlyphs">α</tspan><tspan x="510.8" textLength="7.8" lengthAdjust="spacingAndGlyphs">=</tspan><tspan x="521.9" textLength="14.2">1.0</tspan></text>
<path d="M483.2 59.15H499.4" stroke="#7E2F8E" stroke-width="1.35"/>
<path d="M490.8 52.85L496.4 61.85H485.2Z" fill="#7E2F8E"/>
<text y="62.45" class="lg"><tspan x="500.9" class="it" textLength="6.6" lengthAdjust="spacingAndGlyphs">α</tspan><tspan x="510.8" textLength="7.8" lengthAdjust="spacingAndGlyphs">=</tspan><tspan x="521.9" textLength="14.2">1.5</tspan></text>
<path d="M483.2 72.4H499.4" stroke="#77AC30" stroke-width="1.35"/>
<path d="M490.8 78.7L496.4 69.7H485.2Z" fill="#77AC30"/>
<text y="75.7" class="lg"><tspan x="500.9" class="it" textLength="6.6" lengthAdjust="spacingAndGlyphs">α</tspan><tspan x="510.8" textLength="7.8" lengthAdjust="spacingAndGlyphs">=</tspan><tspan x="521.9" textLength="14.2">2.0</tspan></text>
<path d="M483.2 85.65H499.4" stroke="#4DBEEE" stroke-width="1.35"/>
<path d="M486.45 85.65H495.15M490.8 81.3V90" stroke="#4DBEEE" stroke-width="1.35" fill="none"/>
<text y="88.95" class="lg"><tspan x="500.9" class="it" textLength="6.6" lengthAdjust="spacingAndGlyphs">α</tspan><tspan x="510.8" textLength="7.8" lengthAdjust="spacingAndGlyphs">=</tspan><tspan x="521.9" textLength="14.2">3.0</tspan></text>
<path d="M483.2 98.9H499.4" stroke="#A2142F" stroke-width="1.35"/>
<path d="M487.3 95.4L494.3 102.4M487.3 102.4L494.3 95.4" stroke="#A2142F" stroke-width="1.35" fill="none"/>
<text y="102.2" class="lg"><tspan x="500.9" class="it" textLength="6.6" lengthAdjust="spacingAndGlyphs">α</tspan><tspan x="510.8" textLength="7.8" lengthAdjust="spacingAndGlyphs">=</tspan><tspan x="521.9" textLength="14.2">4.0</tspan></text>
<rect x="26.3" y="231.8" width="235.5" height="186.2" fill="#fff"/>
<path d="M66.7 231.8V418M120.6 231.8V418M174.5 231.8V418M228.4 231.8V418M26.3 265.1H261.8M26.3 326.1H261.8M26.3 387.2H261.8" stroke="#e3e3e7" stroke-width="0.9" fill="none"/>
<path d="M66.7 418v-2.5M66.7 231.8v2.5M120.6 418v-2.5M120.6 231.8v2.5M174.5 418v-2.5M174.5 231.8v2.5M228.4 418v-2.5M228.4 231.8v2.5M26.3 265.1h2.5M261.8 265.1h-2.5M26.3 326.1h2.5M261.8 326.1h-2.5M26.3 387.2h2.5M261.8 387.2h-2.5" stroke="#1a1a1a" stroke-width="1.1" fill="none"/>
<rect x="26.3" y="231.8" width="235.5" height="186.2" fill="none" stroke="#262626" stroke-width="1.55"/>
<text x="67" y="432.9" text-anchor="middle" class="tk">100</text>
<text x="120.9" y="432.9" text-anchor="middle" class="tk">200</text>
<text x="174.8" y="432.9" text-anchor="middle" class="tk">300</text>
<text x="228.7" y="432.9" text-anchor="middle" class="tk">400</text>
<text x="22" y="272.2" text-anchor="end" class="tk ty">10<tspan dx="0.3" dy="-5.6" class="sup">-1</tspan></text>
<text x="22" y="333.2" text-anchor="end" class="tk ty">10<tspan dx="0.3" dy="-5.6" class="sup">-2</tspan></text>
<text x="22" y="394.3" text-anchor="end" class="tk ty">10<tspan dx="0.3" dy="-5.6" class="sup">-3</tspan></text>
<polyline points="26.3,232.2 39.82,257.8 53.34,277.5 66.86,292.9 80.38,304.7 93.9,313.4 107.42,326 120.94,335.1 134.46,340 147.98,345.7 161.5,349 175.02,365.7 188.54,366.2 202.06,375.9 215.58,377.6 229.1,388.1 242.62,391.4 256.14,396.3" fill="none" stroke="#0072BD" stroke-width="1.35" stroke-linejoin="round"/>
<path d="M22 232.2H30.6M26.3 227.9V236.5M23.26 229.16L29.34 235.24M23.26 235.24L29.34 229.16" stroke="#0072BD" stroke-width="1.35" fill="none"/>
<path d="M35.52 257.8H44.12M39.82 253.5V262.1M36.78 254.76L42.86 260.84M36.78 260.84L42.86 254.76" stroke="#0072BD" stroke-width="1.35" fill="none"/>
<path d="M49.04 277.5H57.64M53.34 273.2V281.8M50.3 274.46L56.38 280.54M50.3 280.54L56.38 274.46" stroke="#0072BD" stroke-width="1.35" fill="none"/>
<path d="M62.56 292.9H71.16M66.86 288.6V297.2M63.82 289.86L69.9 295.94M63.82 295.94L69.9 289.86" stroke="#0072BD" stroke-width="1.35" fill="none"/>
<path d="M76.08 304.7H84.68M80.38 300.4V309M77.34 301.66L83.42 307.74M77.34 307.74L83.42 301.66" stroke="#0072BD" stroke-width="1.35" fill="none"/>
<path d="M89.6 313.4H98.2M93.9 309.1V317.7M90.86 310.36L96.94 316.44M90.86 316.44L96.94 310.36" stroke="#0072BD" stroke-width="1.35" fill="none"/>
<path d="M103.12 326H111.72M107.42 321.7V330.3M104.38 322.96L110.46 329.04M104.38 329.04L110.46 322.96" stroke="#0072BD" stroke-width="1.35" fill="none"/>
<path d="M116.64 335.1H125.24M120.94 330.8V339.4M117.9 332.06L123.98 338.14M117.9 338.14L123.98 332.06" stroke="#0072BD" stroke-width="1.35" fill="none"/>
<path d="M130.16 340H138.76M134.46 335.7V344.3M131.42 336.96L137.5 343.04M131.42 343.04L137.5 336.96" stroke="#0072BD" stroke-width="1.35" fill="none"/>
<path d="M143.68 345.7H152.28M147.98 341.4V350M144.94 342.66L151.02 348.74M144.94 348.74L151.02 342.66" stroke="#0072BD" stroke-width="1.35" fill="none"/>
<path d="M157.2 349H165.8M161.5 344.7V353.3M158.46 345.96L164.54 352.04M158.46 352.04L164.54 345.96" stroke="#0072BD" stroke-width="1.35" fill="none"/>
<path d="M170.72 365.7H179.32M175.02 361.4V370M171.98 362.66L178.06 368.74M171.98 368.74L178.06 362.66" stroke="#0072BD" stroke-width="1.35" fill="none"/>
<path d="M184.24 366.2H192.84M188.54 361.9V370.5M185.5 363.16L191.58 369.24M185.5 369.24L191.58 363.16" stroke="#0072BD" stroke-width="1.35" fill="none"/>
<path d="M197.76 375.9H206.36M202.06 371.6V380.2M199.02 372.86L205.1 378.94M199.02 378.94L205.1 372.86" stroke="#0072BD" stroke-width="1.35" fill="none"/>
<path d="M211.28 377.6H219.88M215.58 373.3V381.9M212.54 374.56L218.62 380.64M212.54 380.64L218.62 374.56" stroke="#0072BD" stroke-width="1.35" fill="none"/>
<path d="M224.8 388.1H233.4M229.1 383.8V392.4M226.06 385.06L232.14 391.14M226.06 391.14L232.14 385.06" stroke="#0072BD" stroke-width="1.35" fill="none"/>
<path d="M238.32 391.4H246.92M242.62 387.1V395.7M239.58 388.36L245.66 394.44M239.58 394.44L245.66 388.36" stroke="#0072BD" stroke-width="1.35" fill="none"/>
<path d="M251.84 396.3H260.44M256.14 392V400.6M253.1 393.26L259.18 399.34M253.1 399.34L259.18 393.26" stroke="#0072BD" stroke-width="1.35" fill="none"/>
<polyline points="26.3,258.8 39.82,286.7 53.34,304.2 66.86,319 80.38,329.9 93.9,338 107.42,347.5 120.94,356.5 134.46,362.8 147.98,367.7 161.5,370.9 175.02,382.8 188.54,385.5 202.06,392.6 215.58,396.3 229.1,401.6 242.62,403.8 256.14,408.2" fill="none" stroke="#D95319" stroke-width="1.35" stroke-linejoin="round"/>
<circle cx="26.3" cy="258.8" r="4.5" fill="#D95319"/>
<circle cx="39.82" cy="286.7" r="4.5" fill="#D95319"/>
<circle cx="53.34" cy="304.2" r="4.5" fill="#D95319"/>
<circle cx="66.86" cy="319" r="4.5" fill="#D95319"/>
<circle cx="80.38" cy="329.9" r="4.5" fill="#D95319"/>
<circle cx="93.9" cy="338" r="4.5" fill="#D95319"/>
<circle cx="107.42" cy="347.5" r="4.5" fill="#D95319"/>
<circle cx="120.94" cy="356.5" r="4.5" fill="#D95319"/>
<circle cx="134.46" cy="362.8" r="4.5" fill="#D95319"/>
<circle cx="147.98" cy="367.7" r="4.5" fill="#D95319"/>
<circle cx="161.5" cy="370.9" r="4.5" fill="#D95319"/>
<circle cx="175.02" cy="382.8" r="4.5" fill="#D95319"/>
<circle cx="188.54" cy="385.5" r="4.5" fill="#D95319"/>
<circle cx="202.06" cy="392.6" r="4.5" fill="#D95319"/>
<circle cx="215.58" cy="396.3" r="4.5" fill="#D95319"/>
<circle cx="229.1" cy="401.6" r="4.5" fill="#D95319"/>
<circle cx="242.62" cy="403.8" r="4.5" fill="#D95319"/>
<circle cx="256.14" cy="408.2" r="4.5" fill="#D95319"/>
<polyline points="26.3,268.7 39.82,300 53.34,316.5 66.86,331.3 80.38,341.7 93.9,349.8 107.42,361 120.94,368.8 134.46,374 147.98,378.8 161.5,381 175.02,389.5 188.54,393.5 202.06,399 215.58,403.8 229.1,409 242.62,411.8 256.14,413.8" fill="none" stroke="#EDB120" stroke-width="1.35" stroke-linejoin="round"/>
<rect x="22.65" y="265.05" width="7.3" height="7.3" fill="#EDB120"/>
<rect x="36.17" y="296.35" width="7.3" height="7.3" fill="#EDB120"/>
<rect x="49.69" y="312.85" width="7.3" height="7.3" fill="#EDB120"/>
<rect x="63.21" y="327.65" width="7.3" height="7.3" fill="#EDB120"/>
<rect x="76.73" y="338.05" width="7.3" height="7.3" fill="#EDB120"/>
<rect x="90.25" y="346.15" width="7.3" height="7.3" fill="#EDB120"/>
<rect x="103.77" y="357.35" width="7.3" height="7.3" fill="#EDB120"/>
<rect x="117.29" y="365.15" width="7.3" height="7.3" fill="#EDB120"/>
<rect x="130.81" y="370.35" width="7.3" height="7.3" fill="#EDB120"/>
<rect x="144.33" y="375.15" width="7.3" height="7.3" fill="#EDB120"/>
<rect x="157.85" y="377.35" width="7.3" height="7.3" fill="#EDB120"/>
<rect x="171.37" y="385.85" width="7.3" height="7.3" fill="#EDB120"/>
<rect x="184.89" y="389.85" width="7.3" height="7.3" fill="#EDB120"/>
<rect x="198.41" y="395.35" width="7.3" height="7.3" fill="#EDB120"/>
<rect x="211.93" y="400.15" width="7.3" height="7.3" fill="#EDB120"/>
<rect x="225.45" y="405.35" width="7.3" height="7.3" fill="#EDB120"/>
<rect x="238.97" y="408.15" width="7.3" height="7.3" fill="#EDB120"/>
<rect x="252.49" y="410.15" width="7.3" height="7.3" fill="#EDB120"/>
<polyline points="26.3,275.5 39.82,303.8 53.34,321.7 66.86,337 80.38,347.8 93.9,356 107.42,364 120.94,372.3 134.46,377 147.98,380.8 161.5,384.2 175.02,391.8 188.54,395.8 202.06,402.5 215.58,404.9 229.1,409.8 242.62,412.3 256.14,414.2" fill="none" stroke="#7E2F8E" stroke-width="1.35" stroke-linejoin="round"/>
<path d="M26.3 269.2L31.9 278.2H20.7Z" fill="#7E2F8E"/>
<path d="M39.82 297.5L45.42 306.5H34.22Z" fill="#7E2F8E"/>
<path d="M53.34 315.4L58.94 324.4H47.74Z" fill="#7E2F8E"/>
<path d="M66.86 330.7L72.46 339.7H61.26Z" fill="#7E2F8E"/>
<path d="M80.38 341.5L85.98 350.5H74.78Z" fill="#7E2F8E"/>
<path d="M93.9 349.7L99.5 358.7H88.3Z" fill="#7E2F8E"/>
<path d="M107.42 357.7L113.02 366.7H101.82Z" fill="#7E2F8E"/>
<path d="M120.94 366L126.54 375H115.34Z" fill="#7E2F8E"/>
<path d="M134.46 370.7L140.06 379.7H128.86Z" fill="#7E2F8E"/>
<path d="M147.98 374.5L153.58 383.5H142.38Z" fill="#7E2F8E"/>
<path d="M161.5 377.9L167.1 386.9H155.9Z" fill="#7E2F8E"/>
<path d="M175.02 385.5L180.62 394.5H169.42Z" fill="#7E2F8E"/>
<path d="M188.54 389.5L194.14 398.5H182.94Z" fill="#7E2F8E"/>
<path d="M202.06 396.2L207.66 405.2H196.46Z" fill="#7E2F8E"/>
<path d="M215.58 398.6L221.18 407.6H209.98Z" fill="#7E2F8E"/>
<path d="M229.1 403.5L234.7 412.5H223.5Z" fill="#7E2F8E"/>
<path d="M242.62 406L248.22 415H237.02Z" fill="#7E2F8E"/>
<path d="M256.14 407.9L261.74 416.9H250.54Z" fill="#7E2F8E"/>
<polyline points="26.3,276.5 39.82,305.1 53.34,323.4 66.86,338.5 80.38,349 93.9,356.7 107.42,364.3 120.94,372.4 134.46,377 147.98,380.7 161.5,384 175.02,391.6 188.54,395.5 202.06,402.2 215.58,404.6 229.1,409.5 242.62,412 256.14,413.9" fill="none" stroke="#77AC30" stroke-width="1.35" stroke-linejoin="round"/>
<path d="M26.3 282.8L31.9 273.8H20.7Z" fill="#77AC30"/>
<path d="M39.82 311.4L45.42 302.4H34.22Z" fill="#77AC30"/>
<path d="M53.34 329.7L58.94 320.7H47.74Z" fill="#77AC30"/>
<path d="M66.86 344.8L72.46 335.8H61.26Z" fill="#77AC30"/>
<path d="M80.38 355.3L85.98 346.3H74.78Z" fill="#77AC30"/>
<path d="M93.9 363L99.5 354H88.3Z" fill="#77AC30"/>
<path d="M107.42 370.6L113.02 361.6H101.82Z" fill="#77AC30"/>
<path d="M120.94 378.7L126.54 369.7H115.34Z" fill="#77AC30"/>
<path d="M134.46 383.3L140.06 374.3H128.86Z" fill="#77AC30"/>
<path d="M147.98 387L153.58 378H142.38Z" fill="#77AC30"/>
<path d="M161.5 390.3L167.1 381.3H155.9Z" fill="#77AC30"/>
<path d="M175.02 397.9L180.62 388.9H169.42Z" fill="#77AC30"/>
<path d="M188.54 401.8L194.14 392.8H182.94Z" fill="#77AC30"/>
<path d="M202.06 408.5L207.66 399.5H196.46Z" fill="#77AC30"/>
<path d="M215.58 410.9L221.18 401.9H209.98Z" fill="#77AC30"/>
<path d="M229.1 415.8L234.7 406.8H223.5Z" fill="#77AC30"/>
<path d="M242.62 418.3L248.22 409.3H237.02Z" fill="#77AC30"/>
<path d="M256.14 420.2L261.74 411.2H250.54Z" fill="#77AC30"/>
<polyline points="26.3,276.5 39.82,303.8 53.34,321.7 66.86,336.4 80.38,347 93.9,355 107.42,360.6 120.94,368.4 134.46,373.6 147.98,377 161.5,380.1 175.02,387.6 188.54,390.9 202.06,395.3 215.58,398.4 229.1,403.7 242.62,406.6 256.14,409.2" fill="none" stroke="#4DBEEE" stroke-width="1.35" stroke-linejoin="round"/>
<path d="M21.95 276.5H30.65M26.3 272.15V280.85" stroke="#4DBEEE" stroke-width="1.35" fill="none"/>
<path d="M35.47 303.8H44.17M39.82 299.45V308.15" stroke="#4DBEEE" stroke-width="1.35" fill="none"/>
<path d="M48.99 321.7H57.69M53.34 317.35V326.05" stroke="#4DBEEE" stroke-width="1.35" fill="none"/>
<path d="M62.51 336.4H71.21M66.86 332.05V340.75" stroke="#4DBEEE" stroke-width="1.35" fill="none"/>
<path d="M76.03 347H84.73M80.38 342.65V351.35" stroke="#4DBEEE" stroke-width="1.35" fill="none"/>
<path d="M89.55 355H98.25M93.9 350.65V359.35" stroke="#4DBEEE" stroke-width="1.35" fill="none"/>
<path d="M103.07 360.6H111.77M107.42 356.25V364.95" stroke="#4DBEEE" stroke-width="1.35" fill="none"/>
<path d="M116.59 368.4H125.29M120.94 364.05V372.75" stroke="#4DBEEE" stroke-width="1.35" fill="none"/>
<path d="M130.11 373.6H138.81M134.46 369.25V377.95" stroke="#4DBEEE" stroke-width="1.35" fill="none"/>
<path d="M143.63 377H152.33M147.98 372.65V381.35" stroke="#4DBEEE" stroke-width="1.35" fill="none"/>
<path d="M157.15 380.1H165.85M161.5 375.75V384.45" stroke="#4DBEEE" stroke-width="1.35" fill="none"/>
<path d="M170.67 387.6H179.37M175.02 383.25V391.95" stroke="#4DBEEE" stroke-width="1.35" fill="none"/>
<path d="M184.19 390.9H192.89M188.54 386.55V395.25" stroke="#4DBEEE" stroke-width="1.35" fill="none"/>
<path d="M197.71 395.3H206.41M202.06 390.95V399.65" stroke="#4DBEEE" stroke-width="1.35" fill="none"/>
<path d="M211.23 398.4H219.93M215.58 394.05V402.75" stroke="#4DBEEE" stroke-width="1.35" fill="none"/>
<path d="M224.75 403.7H233.45M229.1 399.35V408.05" stroke="#4DBEEE" stroke-width="1.35" fill="none"/>
<path d="M238.27 406.6H246.97M242.62 402.25V410.95" stroke="#4DBEEE" stroke-width="1.35" fill="none"/>
<path d="M251.79 409.2H260.49M256.14 404.85V413.55" stroke="#4DBEEE" stroke-width="1.35" fill="none"/>
<polyline points="26.3,278.4 39.82,300.8 53.34,318.6 66.86,333.6 80.38,343.4 93.9,351 107.42,353.5 120.94,362.2 134.46,368.5 147.98,372.9 161.5,375.8 175.02,381.3 188.54,383.9 202.06,388.1 215.58,391.9 229.1,393.5 242.62,397.3 256.14,399.2" fill="none" stroke="#A2142F" stroke-width="1.35" stroke-linejoin="round"/>
<path d="M22.8 274.9L29.8 281.9M22.8 281.9L29.8 274.9" stroke="#A2142F" stroke-width="1.35" fill="none"/>
<path d="M36.32 297.3L43.32 304.3M36.32 304.3L43.32 297.3" stroke="#A2142F" stroke-width="1.35" fill="none"/>
<path d="M49.84 315.1L56.84 322.1M49.84 322.1L56.84 315.1" stroke="#A2142F" stroke-width="1.35" fill="none"/>
<path d="M63.36 330.1L70.36 337.1M63.36 337.1L70.36 330.1" stroke="#A2142F" stroke-width="1.35" fill="none"/>
<path d="M76.88 339.9L83.88 346.9M76.88 346.9L83.88 339.9" stroke="#A2142F" stroke-width="1.35" fill="none"/>
<path d="M90.4 347.5L97.4 354.5M90.4 354.5L97.4 347.5" stroke="#A2142F" stroke-width="1.35" fill="none"/>
<path d="M103.92 350L110.92 357M103.92 357L110.92 350" stroke="#A2142F" stroke-width="1.35" fill="none"/>
<path d="M117.44 358.7L124.44 365.7M117.44 365.7L124.44 358.7" stroke="#A2142F" stroke-width="1.35" fill="none"/>
<path d="M130.96 365L137.96 372M130.96 372L137.96 365" stroke="#A2142F" stroke-width="1.35" fill="none"/>
<path d="M144.48 369.4L151.48 376.4M144.48 376.4L151.48 369.4" stroke="#A2142F" stroke-width="1.35" fill="none"/>
<path d="M158 372.3L165 379.3M158 379.3L165 372.3" stroke="#A2142F" stroke-width="1.35" fill="none"/>
<path d="M171.52 377.8L178.52 384.8M171.52 384.8L178.52 377.8" stroke="#A2142F" stroke-width="1.35" fill="none"/>
<path d="M185.04 380.4L192.04 387.4M185.04 387.4L192.04 380.4" stroke="#A2142F" stroke-width="1.35" fill="none"/>
<path d="M198.56 384.6L205.56 391.6M198.56 391.6L205.56 384.6" stroke="#A2142F" stroke-width="1.35" fill="none"/>
<path d="M212.08 388.4L219.08 395.4M212.08 395.4L219.08 388.4" stroke="#A2142F" stroke-width="1.35" fill="none"/>
<path d="M225.6 390L232.6 397M225.6 397L232.6 390" stroke="#A2142F" stroke-width="1.35" fill="none"/>
<path d="M239.12 393.8L246.12 400.8M239.12 400.8L246.12 393.8" stroke="#A2142F" stroke-width="1.35" fill="none"/>
<path d="M252.64 395.7L259.64 402.7M252.64 402.7L259.64 395.7" stroke="#A2142F" stroke-width="1.35" fill="none"/>
<rect x="195.4" y="237.3" width="61.6" height="94.8" fill="#fff" stroke="#1a1a1a" stroke-width="1"/>
<path d="M198 244.7H214.2" stroke="#0072BD" stroke-width="1.35"/>
<path d="M201.3 244.7H209.9M205.6 240.4V249M202.56 241.66L208.64 247.74M202.56 247.74L208.64 241.66" stroke="#0072BD" stroke-width="1.35" fill="none"/>
<text y="248" class="lg"><tspan x="215.7" class="it" textLength="6.6" lengthAdjust="spacingAndGlyphs">α</tspan><tspan x="225.6" textLength="7.8" lengthAdjust="spacingAndGlyphs">=</tspan><tspan x="236.7" textLength="14.2">0.0</tspan></text>
<path d="M198 257.95H214.2" stroke="#D95319" stroke-width="1.35"/>
<circle cx="205.6" cy="257.95" r="4.5" fill="#D95319"/>
<text y="261.25" class="lg"><tspan x="215.7" class="it" textLength="6.6" lengthAdjust="spacingAndGlyphs">α</tspan><tspan x="225.6" textLength="7.8" lengthAdjust="spacingAndGlyphs">=</tspan><tspan x="236.7" textLength="14.2">0.5</tspan></text>
<path d="M198 271.2H214.2" stroke="#EDB120" stroke-width="1.35"/>
<rect x="201.95" y="267.55" width="7.3" height="7.3" fill="#EDB120"/>
<text y="274.5" class="lg"><tspan x="215.7" class="it" textLength="6.6" lengthAdjust="spacingAndGlyphs">α</tspan><tspan x="225.6" textLength="7.8" lengthAdjust="spacingAndGlyphs">=</tspan><tspan x="236.7" textLength="14.2">1.0</tspan></text>
<path d="M198 284.45H214.2" stroke="#7E2F8E" stroke-width="1.35"/>
<path d="M205.6 278.15L211.2 287.15H200Z" fill="#7E2F8E"/>
<text y="287.75" class="lg"><tspan x="215.7" class="it" textLength="6.6" lengthAdjust="spacingAndGlyphs">α</tspan><tspan x="225.6" textLength="7.8" lengthAdjust="spacingAndGlyphs">=</tspan><tspan x="236.7" textLength="14.2">1.5</tspan></text>
<path d="M198 297.7H214.2" stroke="#77AC30" stroke-width="1.35"/>
<path d="M205.6 304L211.2 295H200Z" fill="#77AC30"/>
<text y="301" class="lg"><tspan x="215.7" class="it" textLength="6.6" lengthAdjust="spacingAndGlyphs">α</tspan><tspan x="225.6" textLength="7.8" lengthAdjust="spacingAndGlyphs">=</tspan><tspan x="236.7" textLength="14.2">2.0</tspan></text>
<path d="M198 310.95H214.2" stroke="#4DBEEE" stroke-width="1.35"/>
<path d="M201.25 310.95H209.95M205.6 306.6V315.3" stroke="#4DBEEE" stroke-width="1.35" fill="none"/>
<text y="314.25" class="lg"><tspan x="215.7" class="it" textLength="6.6" lengthAdjust="spacingAndGlyphs">α</tspan><tspan x="225.6" textLength="7.8" lengthAdjust="spacingAndGlyphs">=</tspan><tspan x="236.7" textLength="14.2">3.0</tspan></text>
<path d="M198 324.2H214.2" stroke="#A2142F" stroke-width="1.35"/>
<path d="M202.1 320.7L209.1 327.7M202.1 327.7L209.1 320.7" stroke="#A2142F" stroke-width="1.35" fill="none"/>
<text y="327.5" class="lg"><tspan x="215.7" class="it" textLength="6.6" lengthAdjust="spacingAndGlyphs">α</tspan><tspan x="225.6" textLength="7.8" lengthAdjust="spacingAndGlyphs">=</tspan><tspan x="236.7" textLength="14.2">4.0</tspan></text>
<text y="458.9" class="cap"><tspan x="71.2">(</tspan><tspan class="it">d</tspan>, <tspan class="it">k</tspan>, <tspan class="it">n</tspan>)<tspan x="123.2" textLength="10" lengthAdjust="spacingAndGlyphs">=</tspan></text>
<text x="218.8" y="458.9" text-anchor="end" textLength="80.3" class="cap">(8, 22, 1843)</text>
<rect x="311.3" y="231.8" width="235.5" height="186.2" fill="#fff"/>
<path d="M344.8 231.8V418M393.5 231.8V418M442.2 231.8V418M490.9 231.8V418M539.2 231.8V418M311.3 279.9H546.8M311.3 334.1H546.8M311.3 388.4H546.8" stroke="#e3e3e7" stroke-width="0.9" fill="none"/>
<path d="M344.8 418v-2.5M344.8 231.8v2.5M393.5 418v-2.5M393.5 231.8v2.5M442.2 418v-2.5M442.2 231.8v2.5M490.9 418v-2.5M490.9 231.8v2.5M539.2 418v-2.5M539.2 231.8v2.5M311.3 279.9h2.5M546.8 279.9h-2.5M311.3 334.1h2.5M546.8 334.1h-2.5M311.3 388.4h2.5M546.8 388.4h-2.5" stroke="#1a1a1a" stroke-width="1.1" fill="none"/>
<rect x="311.3" y="231.8" width="235.5" height="186.2" fill="none" stroke="#262626" stroke-width="1.55"/>
<text x="345.1" y="432.9" text-anchor="middle" class="tk">200</text>
<text x="393.8" y="432.9" text-anchor="middle" class="tk">400</text>
<text x="442.5" y="432.9" text-anchor="middle" class="tk">600</text>
<text x="491.2" y="432.9" text-anchor="middle" class="tk">800</text>
<text x="539.5" y="432.9" text-anchor="middle" class="tk">1000</text>
<text x="307" y="287" text-anchor="end" class="tk ty">10<tspan dx="0.3" dy="-5.6" class="sup">-2</tspan></text>
<text x="307" y="341.2" text-anchor="end" class="tk ty">10<tspan dx="0.3" dy="-5.6" class="sup">-3</tspan></text>
<text x="307" y="395.5" text-anchor="end" class="tk ty">10<tspan dx="0.3" dy="-5.6" class="sup">-4</tspan></text>
<polyline points="310.8,232.2 325.4,266.4 340,289.6 354.6,314.1 369.2,323.6 383.8,334.9 398.4,356 413,361 427.6,374.3 442.2,377.6 456.8,388.9 471.4,394.1 486,398.9 500.6,400.6 515.2,403.1 529.8,407 544.4,407" fill="none" stroke="#0072BD" stroke-width="1.35" stroke-linejoin="round"/>
<path d="M306.5 232.2H315.1M310.8 227.9V236.5M307.76 229.16L313.84 235.24M307.76 235.24L313.84 229.16" stroke="#0072BD" stroke-width="1.35" fill="none"/>
<path d="M321.1 266.4H329.7M325.4 262.1V270.7M322.36 263.36L328.44 269.44M322.36 269.44L328.44 263.36" stroke="#0072BD" stroke-width="1.35" fill="none"/>
<path d="M335.7 289.6H344.3M340 285.3V293.9M336.96 286.56L343.04 292.64M336.96 292.64L343.04 286.56" stroke="#0072BD" stroke-width="1.35" fill="none"/>
<path d="M350.3 314.1H358.9M354.6 309.8V318.4M351.56 311.06L357.64 317.14M351.56 317.14L357.64 311.06" stroke="#0072BD" stroke-width="1.35" fill="none"/>
<path d="M364.9 323.6H373.5M369.2 319.3V327.9M366.16 320.56L372.24 326.64M366.16 326.64L372.24 320.56" stroke="#0072BD" stroke-width="1.35" fill="none"/>
<path d="M379.5 334.9H388.1M383.8 330.6V339.2M380.76 331.86L386.84 337.94M380.76 337.94L386.84 331.86" stroke="#0072BD" stroke-width="1.35" fill="none"/>
<path d="M394.1 356H402.7M398.4 351.7V360.3M395.36 352.96L401.44 359.04M395.36 359.04L401.44 352.96" stroke="#0072BD" stroke-width="1.35" fill="none"/>
<path d="M408.7 361H417.3M413 356.7V365.3M409.96 357.96L416.04 364.04M409.96 364.04L416.04 357.96" stroke="#0072BD" stroke-width="1.35" fill="none"/>
<path d="M423.3 374.3H431.9M427.6 370V378.6M424.56 371.26L430.64 377.34M424.56 377.34L430.64 371.26" stroke="#0072BD" stroke-width="1.35" fill="none"/>
<path d="M437.9 377.6H446.5M442.2 373.3V381.9M439.16 374.56L445.24 380.64M439.16 380.64L445.24 374.56" stroke="#0072BD" stroke-width="1.35" fill="none"/>
<path d="M452.5 388.9H461.1M456.8 384.6V393.2M453.76 385.86L459.84 391.94M453.76 391.94L459.84 385.86" stroke="#0072BD" stroke-width="1.35" fill="none"/>
<path d="M467.1 394.1H475.7M471.4 389.8V398.4M468.36 391.06L474.44 397.14M468.36 397.14L474.44 391.06" stroke="#0072BD" stroke-width="1.35" fill="none"/>
<path d="M481.7 398.9H490.3M486 394.6V403.2M482.96 395.86L489.04 401.94M482.96 401.94L489.04 395.86" stroke="#0072BD" stroke-width="1.35" fill="none"/>
<path d="M496.3 400.6H504.9M500.6 396.3V404.9M497.56 397.56L503.64 403.64M497.56 403.64L503.64 397.56" stroke="#0072BD" stroke-width="1.35" fill="none"/>
<path d="M510.9 403.1H519.5M515.2 398.8V407.4M512.16 400.06L518.24 406.14M512.16 406.14L518.24 400.06" stroke="#0072BD" stroke-width="1.35" fill="none"/>
<path d="M525.5 407H534.1M529.8 402.7V411.3M526.76 403.96L532.84 410.04M526.76 410.04L532.84 403.96" stroke="#0072BD" stroke-width="1.35" fill="none"/>
<path d="M540.1 407H548.7M544.4 402.7V411.3M541.36 403.96L547.44 410.04M541.36 410.04L547.44 403.96" stroke="#0072BD" stroke-width="1.35" fill="none"/>
<polyline points="310.8,262.5 325.4,295 340,317.5 354.6,339.4 369.2,347.9 383.8,356.1 398.4,375 413,378 427.6,388 442.2,390 456.8,397.3 471.4,399.9 486,402.8 500.6,404.8 515.2,407 529.8,410.2 544.4,410.2" fill="none" stroke="#D95319" stroke-width="1.35" stroke-linejoin="round"/>
<circle cx="310.8" cy="262.5" r="4.5" fill="#D95319"/>
<circle cx="325.4" cy="295" r="4.5" fill="#D95319"/>
<circle cx="340" cy="317.5" r="4.5" fill="#D95319"/>
<circle cx="354.6" cy="339.4" r="4.5" fill="#D95319"/>
<circle cx="369.2" cy="347.9" r="4.5" fill="#D95319"/>
<circle cx="383.8" cy="356.1" r="4.5" fill="#D95319"/>
<circle cx="398.4" cy="375" r="4.5" fill="#D95319"/>
<circle cx="413" cy="378" r="4.5" fill="#D95319"/>
<circle cx="427.6" cy="388" r="4.5" fill="#D95319"/>
<circle cx="442.2" cy="390" r="4.5" fill="#D95319"/>
<circle cx="456.8" cy="397.3" r="4.5" fill="#D95319"/>
<circle cx="471.4" cy="399.9" r="4.5" fill="#D95319"/>
<circle cx="486" cy="402.8" r="4.5" fill="#D95319"/>
<circle cx="500.6" cy="404.8" r="4.5" fill="#D95319"/>
<circle cx="515.2" cy="407" r="4.5" fill="#D95319"/>
<circle cx="529.8" cy="410.2" r="4.5" fill="#D95319"/>
<circle cx="544.4" cy="410.2" r="4.5" fill="#D95319"/>
<polyline points="310.8,277 325.4,308.5 340,329.9 354.6,350.2 369.2,358.9 383.8,366.5 398.4,382.1 413,387 427.6,396.2 442.2,397.5 456.8,403 471.4,405.6 486,408 500.6,409.5 515.2,411.3 529.8,413.3 544.4,412.8" fill="none" stroke="#EDB120" stroke-width="1.35" stroke-linejoin="round"/>
<rect x="307.15" y="273.35" width="7.3" height="7.3" fill="#EDB120"/>
<rect x="321.75" y="304.85" width="7.3" height="7.3" fill="#EDB120"/>
<rect x="336.35" y="326.25" width="7.3" height="7.3" fill="#EDB120"/>
<rect x="350.95" y="346.55" width="7.3" height="7.3" fill="#EDB120"/>
<rect x="365.55" y="355.25" width="7.3" height="7.3" fill="#EDB120"/>
<rect x="380.15" y="362.85" width="7.3" height="7.3" fill="#EDB120"/>
<rect x="394.75" y="378.45" width="7.3" height="7.3" fill="#EDB120"/>
<rect x="409.35" y="383.35" width="7.3" height="7.3" fill="#EDB120"/>
<rect x="423.95" y="392.55" width="7.3" height="7.3" fill="#EDB120"/>
<rect x="438.55" y="393.85" width="7.3" height="7.3" fill="#EDB120"/>
<rect x="453.15" y="399.35" width="7.3" height="7.3" fill="#EDB120"/>
<rect x="467.75" y="401.95" width="7.3" height="7.3" fill="#EDB120"/>
<rect x="482.35" y="404.35" width="7.3" height="7.3" fill="#EDB120"/>
<rect x="496.95" y="405.85" width="7.3" height="7.3" fill="#EDB120"/>
<rect x="511.55" y="407.65" width="7.3" height="7.3" fill="#EDB120"/>
<rect x="526.15" y="409.65" width="7.3" height="7.3" fill="#EDB120"/>
<rect x="540.75" y="409.15" width="7.3" height="7.3" fill="#EDB120"/>
<polyline points="310.8,283.2 325.4,315.5 340,335.1 354.6,354.3 369.2,362.5 383.8,370.6 398.4,384.7 413,388.9 427.6,397.7 442.2,399.1 456.8,404.5 471.4,406.7 486,409.1 500.6,409.9 515.2,411.5 529.8,414 544.4,413.2" fill="none" stroke="#7E2F8E" stroke-width="1.35" stroke-linejoin="round"/>
<path d="M310.8 276.9L316.4 285.9H305.2Z" fill="#7E2F8E"/>
<path d="M325.4 309.2L331 318.2H319.8Z" fill="#7E2F8E"/>
<path d="M340 328.8L345.6 337.8H334.4Z" fill="#7E2F8E"/>
<path d="M354.6 348L360.2 357H349Z" fill="#7E2F8E"/>
<path d="M369.2 356.2L374.8 365.2H363.6Z" fill="#7E2F8E"/>
<path d="M383.8 364.3L389.4 373.3H378.2Z" fill="#7E2F8E"/>
<path d="M398.4 378.4L404 387.4H392.8Z" fill="#7E2F8E"/>
<path d="M413 382.6L418.6 391.6H407.4Z" fill="#7E2F8E"/>
<path d="M427.6 391.4L433.2 400.4H422Z" fill="#7E2F8E"/>
<path d="M442.2 392.8L447.8 401.8H436.6Z" fill="#7E2F8E"/>
<path d="M456.8 398.2L462.4 407.2H451.2Z" fill="#7E2F8E"/>
<path d="M471.4 400.4L477 409.4H465.8Z" fill="#7E2F8E"/>
<path d="M486 402.8L491.6 411.8H480.4Z" fill="#7E2F8E"/>
<path d="M500.6 403.6L506.2 412.6H495Z" fill="#7E2F8E"/>
<path d="M515.2 405.2L520.8 414.2H509.6Z" fill="#7E2F8E"/>
<path d="M529.8 407.7L535.4 416.7H524.2Z" fill="#7E2F8E"/>
<path d="M544.4 406.9L550 415.9H538.8Z" fill="#7E2F8E"/>
<polyline points="310.8,282.8 325.4,315.3 340,334.8 354.6,354 369.2,362.2 383.8,370.3 398.4,384.4 413,388.6 427.6,397.4 442.2,398.8 456.8,404.2 471.4,406.4 486,408.8 500.6,409.6 515.2,411.2 529.8,413.7 544.4,412.9" fill="none" stroke="#77AC30" stroke-width="1.35" stroke-linejoin="round"/>
<path d="M310.8 289.1L316.4 280.1H305.2Z" fill="#77AC30"/>
<path d="M325.4 321.6L331 312.6H319.8Z" fill="#77AC30"/>
<path d="M340 341.1L345.6 332.1H334.4Z" fill="#77AC30"/>
<path d="M354.6 360.3L360.2 351.3H349Z" fill="#77AC30"/>
<path d="M369.2 368.5L374.8 359.5H363.6Z" fill="#77AC30"/>
<path d="M383.8 376.6L389.4 367.6H378.2Z" fill="#77AC30"/>
<path d="M398.4 390.7L404 381.7H392.8Z" fill="#77AC30"/>
<path d="M413 394.9L418.6 385.9H407.4Z" fill="#77AC30"/>
<path d="M427.6 403.7L433.2 394.7H422Z" fill="#77AC30"/>
<path d="M442.2 405.1L447.8 396.1H436.6Z" fill="#77AC30"/>
<path d="M456.8 410.5L462.4 401.5H451.2Z" fill="#77AC30"/>
<path d="M471.4 412.7L477 403.7H465.8Z" fill="#77AC30"/>
<path d="M486 415.1L491.6 406.1H480.4Z" fill="#77AC30"/>
<path d="M500.6 415.9L506.2 406.9H495Z" fill="#77AC30"/>
<path d="M515.2 417.5L520.8 408.5H509.6Z" fill="#77AC30"/>
<path d="M529.8 420L535.4 411H524.2Z" fill="#77AC30"/>
<path d="M544.4 419.2L550 410.2H538.8Z" fill="#77AC30"/>
<polyline points="310.8,281.5 325.4,313.4 340,330.5 354.6,349.5 369.2,359 383.8,366.4 398.4,378.2 413,383.2 427.6,391.3 442.2,395.4 456.8,401.5 471.4,404.2 486,407 500.6,408.4 515.2,410.2 529.8,412.3 544.4,412.3" fill="none" stroke="#4DBEEE" stroke-width="1.35" stroke-linejoin="round"/>
<path d="M306.45 281.5H315.15M310.8 277.15V285.85" stroke="#4DBEEE" stroke-width="1.35" fill="none"/>
<path d="M321.05 313.4H329.75M325.4 309.05V317.75" stroke="#4DBEEE" stroke-width="1.35" fill="none"/>
<path d="M335.65 330.5H344.35M340 326.15V334.85" stroke="#4DBEEE" stroke-width="1.35" fill="none"/>
<path d="M350.25 349.5H358.95M354.6 345.15V353.85" stroke="#4DBEEE" stroke-width="1.35" fill="none"/>
<path d="M364.85 359H373.55M369.2 354.65V363.35" stroke="#4DBEEE" stroke-width="1.35" fill="none"/>
<path d="M379.45 366.4H388.15M383.8 362.05V370.75" stroke="#4DBEEE" stroke-width="1.35" fill="none"/>
<path d="M394.05 378.2H402.75M398.4 373.85V382.55" stroke="#4DBEEE" stroke-width="1.35" fill="none"/>
<path d="M408.65 383.2H417.35M413 378.85V387.55" stroke="#4DBEEE" stroke-width="1.35" fill="none"/>
<path d="M423.25 391.3H431.95M427.6 386.95V395.65" stroke="#4DBEEE" stroke-width="1.35" fill="none"/>
<path d="M437.85 395.4H446.55M442.2 391.05V399.75" stroke="#4DBEEE" stroke-width="1.35" fill="none"/>
<path d="M452.45 401.5H461.15M456.8 397.15V405.85" stroke="#4DBEEE" stroke-width="1.35" fill="none"/>
<path d="M467.05 404.2H475.75M471.4 399.85V408.55" stroke="#4DBEEE" stroke-width="1.35" fill="none"/>
<path d="M481.65 407H490.35M486 402.65V411.35" stroke="#4DBEEE" stroke-width="1.35" fill="none"/>
<path d="M496.25 408.4H504.95M500.6 404.05V412.75" stroke="#4DBEEE" stroke-width="1.35" fill="none"/>
<path d="M510.85 410.2H519.55M515.2 405.85V414.55" stroke="#4DBEEE" stroke-width="1.35" fill="none"/>
<path d="M525.45 412.3H534.15M529.8 407.95V416.65" stroke="#4DBEEE" stroke-width="1.35" fill="none"/>
<path d="M540.05 412.3H548.75M544.4 407.95V416.65" stroke="#4DBEEE" stroke-width="1.35" fill="none"/>
<polyline points="310.8,277.7 325.4,309.6 340,325.5 354.6,341 369.2,351.2 383.8,359.4 398.4,370.3 413,375 427.6,383.7 442.2,388 456.8,395.6 471.4,399.2 486,402.2 500.6,404.6 515.2,406.7 529.8,409.9 544.4,409.9" fill="none" stroke="#A2142F" stroke-width="1.35" stroke-linejoin="round"/>
<path d="M307.3 274.2L314.3 281.2M307.3 281.2L314.3 274.2" stroke="#A2142F" stroke-width="1.35" fill="none"/>
<path d="M321.9 306.1L328.9 313.1M321.9 313.1L328.9 306.1" stroke="#A2142F" stroke-width="1.35" fill="none"/>
<path d="M336.5 322L343.5 329M336.5 329L343.5 322" stroke="#A2142F" stroke-width="1.35" fill="none"/>
<path d="M351.1 337.5L358.1 344.5M351.1 344.5L358.1 337.5" stroke="#A2142F" stroke-width="1.35" fill="none"/>
<path d="M365.7 347.7L372.7 354.7M365.7 354.7L372.7 347.7" stroke="#A2142F" stroke-width="1.35" fill="none"/>
<path d="M380.3 355.9L387.3 362.9M380.3 362.9L387.3 355.9" stroke="#A2142F" stroke-width="1.35" fill="none"/>
<path d="M394.9 366.8L401.9 373.8M394.9 373.8L401.9 366.8" stroke="#A2142F" stroke-width="1.35" fill="none"/>
<path d="M409.5 371.5L416.5 378.5M409.5 378.5L416.5 371.5" stroke="#A2142F" stroke-width="1.35" fill="none"/>
<path d="M424.1 380.2L431.1 387.2M424.1 387.2L431.1 380.2" stroke="#A2142F" stroke-width="1.35" fill="none"/>
<path d="M438.7 384.5L445.7 391.5M438.7 391.5L445.7 384.5" stroke="#A2142F" stroke-width="1.35" fill="none"/>
<path d="M453.3 392.1L460.3 399.1M453.3 399.1L460.3 392.1" stroke="#A2142F" stroke-width="1.35" fill="none"/>
<path d="M467.9 395.7L474.9 402.7M467.9 402.7L474.9 395.7" stroke="#A2142F" stroke-width="1.35" fill="none"/>
<path d="M482.5 398.7L489.5 405.7M482.5 405.7L489.5 398.7" stroke="#A2142F" stroke-width="1.35" fill="none"/>
<path d="M497.1 401.1L504.1 408.1M497.1 408.1L504.1 401.1" stroke="#A2142F" stroke-width="1.35" fill="none"/>
<path d="M511.7 403.2L518.7 410.2M511.7 410.2L518.7 403.2" stroke="#A2142F" stroke-width="1.35" fill="none"/>
<path d="M526.3 406.4L533.3 413.4M526.3 413.4L533.3 406.4" stroke="#A2142F" stroke-width="1.35" fill="none"/>
<path d="M540.9 406.4L547.9 413.4M540.9 413.4L547.9 406.4" stroke="#A2142F" stroke-width="1.35" fill="none"/>
<rect x="480.6" y="237.3" width="61" height="94.8" fill="#fff" stroke="#1a1a1a" stroke-width="1"/>
<path d="M483.2 244.7H499.4" stroke="#0072BD" stroke-width="1.35"/>
<path d="M486.5 244.7H495.1M490.8 240.4V249M487.76 241.66L493.84 247.74M487.76 247.74L493.84 241.66" stroke="#0072BD" stroke-width="1.35" fill="none"/>
<text y="248" class="lg"><tspan x="500.9" class="it" textLength="6.6" lengthAdjust="spacingAndGlyphs">α</tspan><tspan x="510.8" textLength="7.8" lengthAdjust="spacingAndGlyphs">=</tspan><tspan x="521.9" textLength="14.2">0.0</tspan></text>
<path d="M483.2 257.95H499.4" stroke="#D95319" stroke-width="1.35"/>
<circle cx="490.8" cy="257.95" r="4.5" fill="#D95319"/>
<text y="261.25" class="lg"><tspan x="500.9" class="it" textLength="6.6" lengthAdjust="spacingAndGlyphs">α</tspan><tspan x="510.8" textLength="7.8" lengthAdjust="spacingAndGlyphs">=</tspan><tspan x="521.9" textLength="14.2">0.5</tspan></text>
<path d="M483.2 271.2H499.4" stroke="#EDB120" stroke-width="1.35"/>
<rect x="487.15" y="267.55" width="7.3" height="7.3" fill="#EDB120"/>
<text y="274.5" class="lg"><tspan x="500.9" class="it" textLength="6.6" lengthAdjust="spacingAndGlyphs">α</tspan><tspan x="510.8" textLength="7.8" lengthAdjust="spacingAndGlyphs">=</tspan><tspan x="521.9" textLength="14.2">1.0</tspan></text>
<path d="M483.2 284.45H499.4" stroke="#7E2F8E" stroke-width="1.35"/>
<path d="M490.8 278.15L496.4 287.15H485.2Z" fill="#7E2F8E"/>
<text y="287.75" class="lg"><tspan x="500.9" class="it" textLength="6.6" lengthAdjust="spacingAndGlyphs">α</tspan><tspan x="510.8" textLength="7.8" lengthAdjust="spacingAndGlyphs">=</tspan><tspan x="521.9" textLength="14.2">1.5</tspan></text>
<path d="M483.2 297.7H499.4" stroke="#77AC30" stroke-width="1.35"/>
<path d="M490.8 304L496.4 295H485.2Z" fill="#77AC30"/>
<text y="301" class="lg"><tspan x="500.9" class="it" textLength="6.6" lengthAdjust="spacingAndGlyphs">α</tspan><tspan x="510.8" textLength="7.8" lengthAdjust="spacingAndGlyphs">=</tspan><tspan x="521.9" textLength="14.2">2.0</tspan></text>
<path d="M483.2 310.95H499.4" stroke="#4DBEEE" stroke-width="1.35"/>
<path d="M486.45 310.95H495.15M490.8 306.6V315.3" stroke="#4DBEEE" stroke-width="1.35" fill="none"/>
<text y="314.25" class="lg"><tspan x="500.9" class="it" textLength="6.6" lengthAdjust="spacingAndGlyphs">α</tspan><tspan x="510.8" textLength="7.8" lengthAdjust="spacingAndGlyphs">=</tspan><tspan x="521.9" textLength="14.2">3.0</tspan></text>
<path d="M483.2 324.2H499.4" stroke="#A2142F" stroke-width="1.35"/>
<path d="M487.3 320.7L494.3 327.7M487.3 327.7L494.3 320.7" stroke="#A2142F" stroke-width="1.35" fill="none"/>
<text y="327.5" class="lg"><tspan x="500.9" class="it" textLength="6.6" lengthAdjust="spacingAndGlyphs">α</tspan><tspan x="510.8" textLength="7.8" lengthAdjust="spacingAndGlyphs">=</tspan><tspan x="521.9" textLength="14.2">4.0</tspan></text>
<text y="458.9" class="cap"><tspan x="351.3">(</tspan><tspan class="it">d</tspan>, <tspan class="it">k</tspan>, <tspan class="it">n</tspan>)<tspan x="403.7" textLength="10" lengthAdjust="spacingAndGlyphs">=</tspan></text>
<text x="507.5" y="458.9" text-anchor="end" textLength="87.3" class="cap">(16, 13, 4129)</text>
</svg>
</body></html>
